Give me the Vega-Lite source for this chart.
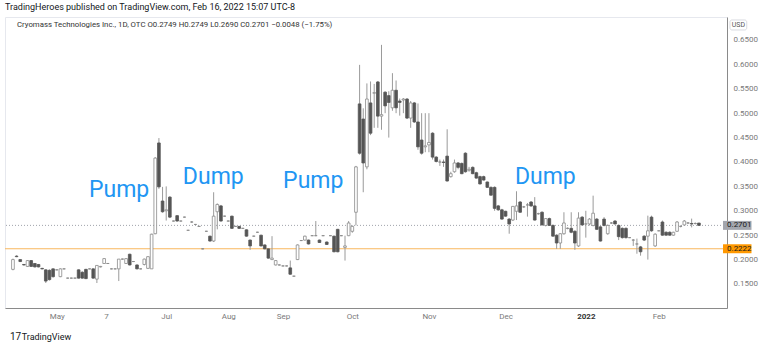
{
  "$schema": "https://vega.github.io/schema/vega-lite/v6.json",
  "width": 722,
  "height": 291,
  "autosize": "none",
  "padding": {"left": 5, "top": 17, "right": 41, "bottom": 38},
  "background": "white",
  "config": {"view": {"stroke": "#e6e8ee"}, "font": "Roboto"},
  "title": {"text": "TradingHeroes published on TradingView.com, Feb 16, 2022 15:07 UTC-8", "anchor": "start", "frame": "group", "offset": 5, "fontSize": 9, "fontWeight": "normal", "color": "#131722", "font": "Roboto"},
  "resolve": {"axis": {"x": "independent", "y": "independent"}},
  "datasets": {
    "candles": [
      {"i":0,"o":0.180,"h":0.202,"l":0.178,"c":0.200},
      {"i":1,"o":0.207,"h":0.209,"l":0.205,"c":0.206},
      {"i":2,"o":0.200,"h":0.200,"l":0.195,"c":0.196},
      {"i":3,"o":0.190,"h":0.191,"l":0.188,"c":0.189},
      {"i":4,"o":0.186,"h":0.199,"l":0.185,"c":0.198},
      {"i":5,"o":0.198,"h":0.199,"l":0.185,"c":0.186},
      {"i":6,"o":0.192,"h":0.193,"l":0.184,"c":0.185},
      {"i":7,"o":0.190,"h":0.191,"l":0.184,"c":0.185},
      {"i":8,"o":0.182,"h":0.183,"l":0.180,"c":0.181},
      {"i":9,"o":0.179,"h":0.180,"l":0.152,"c":0.156},
      {"i":10,"o":0.178,"h":0.180,"l":0.157,"c":0.159},
      {"i":11,"o":0.181,"h":0.182,"l":0.163,"c":0.165},
      {"i":12,"o":0.179,"h":0.180,"l":0.178,"c":0.179},
      {"i":13,"o":0.165,"h":0.182,"l":0.164,"c":0.181},
      {"i":14,"o":0.181,"h":0.182,"l":0.180,"c":0.181},
      {"i":15,"o":0.162,"h":0.163,"l":0.161,"c":0.162},
      {"i":16,"o":0.162,"h":0.163,"l":0.161,"c":0.162},
      {"i":17,"o":0.162,"h":0.163,"l":0.161,"c":0.162},
      {"i":18,"o":0.179,"h":0.180,"l":0.161,"c":0.162},
      {"i":19,"o":0.174,"h":0.176,"l":0.161,"c":0.162},
      {"i":20,"o":0.180,"h":0.181,"l":0.160,"c":0.161},
      {"i":21,"o":0.181,"h":0.182,"l":0.180,"c":0.181},
      {"i":22,"o":0.181,"h":0.182,"l":0.161,"c":0.162},
      {"i":23,"o":0.160,"h":0.188,"l":0.152,"c":0.188},
      {"i":24,"o":0.185,"h":0.187,"l":0.184,"c":0.186},
      {"i":25,"o":0.192,"h":0.203,"l":0.191,"c":0.202},
      {"i":26,"o":0.192,"h":0.193,"l":0.191,"c":0.192},
      {"i":27,"o":0.181,"h":0.182,"l":0.180,"c":0.181},
      {"i":28,"o":0.181,"h":0.182,"l":0.180,"c":0.181},
      {"i":29,"o":0.181,"h":0.201,"l":0.156,"c":0.201},
      {"i":30,"o":0.201,"h":0.202,"l":0.200,"c":0.201},
      {"i":31,"o":0.192,"h":0.203,"l":0.191,"c":0.202},
      {"i":32,"o":0.211,"h":0.212,"l":0.188,"c":0.189},
      {"i":33,"o":0.196,"h":0.197,"l":0.195,"c":0.196},
      {"i":34,"o":0.189,"h":0.190,"l":0.180,"c":0.181},
      {"i":35,"o":0.181,"h":0.182,"l":0.180,"c":0.181},
      {"i":36,"o":0.190,"h":0.202,"l":0.188,"c":0.201},
      {"i":37,"o":0.182,"h":0.207,"l":0.181,"c":0.206},
      {"i":38,"o":0.181,"h":0.253,"l":0.181,"c":0.252},
      {"i":39,"o":0.253,"h":0.410,"l":0.252,"c":0.408},
      {"i":40,"o":0.439,"h":0.449,"l":0.345,"c":0.349},
      {"i":41,"o":0.320,"h":0.349,"l":0.296,"c":0.298},
      {"i":42,"o":0.300,"h":0.350,"l":0.280,"c":0.302},
      {"i":43,"o":0.328,"h":0.330,"l":0.285,"c":0.287},
      {"i":44,"o":0.279,"h":0.280,"l":0.278,"c":0.279},
      {"i":45,"o":0.290,"h":0.291,"l":0.278,"c":0.279},
      {"i":46,"o":0.279,"h":0.280,"l":0.278,"c":0.279},
      {"i":47,"o":0.287,"h":0.288,"l":0.286,"c":0.287},
      {"i":48,"o":0.260,"h":0.261,"l":0.259,"c":0.260},
      {"i":49,"o":0.277,"h":0.279,"l":0.275,"c":0.277},
      {"i":50,"o":0.272,"h":0.273,"l":0.271,"c":0.272},
      {"i":51,"o":0.268,"h":0.269,"l":0.267,"c":0.268},
      {"i":52,"o":0.222,"h":0.223,"l":0.221,"c":0.222},
      {"i":53,"o":0.258,"h":0.259,"l":0.257,"c":0.258},
      {"i":54,"o":0.248,"h":0.249,"l":0.237,"c":0.238},
      {"i":55,"o":0.238,"h":0.338,"l":0.236,"c":0.289},
      {"i":56,"o":0.298,"h":0.315,"l":0.262,"c":0.313},
      {"i":57,"o":0.310,"h":0.312,"l":0.278,"c":0.279},
      {"i":58,"o":0.289,"h":0.290,"l":0.288,"c":0.289},
      {"i":59,"o":0.279,"h":0.280,"l":0.278,"c":0.279},
      {"i":60,"o":0.289,"h":0.290,"l":0.263,"c":0.264},
      {"i":61,"o":0.268,"h":0.269,"l":0.267,"c":0.268},
      {"i":62,"o":0.268,"h":0.269,"l":0.263,"c":0.264},
      {"i":63,"o":0.264,"h":0.265,"l":0.263,"c":0.264},
      {"i":64,"o":0.261,"h":0.262,"l":0.247,"c":0.248},
      {"i":65,"o":0.240,"h":0.241,"l":0.220,"c":0.228},
      {"i":66,"o":0.248,"h":0.249,"l":0.247,"c":0.248},
      {"i":67,"o":0.256,"h":0.257,"l":0.255,"c":0.256},
      {"i":68,"o":0.250,"h":0.251,"l":0.227,"c":0.228},
      {"i":69,"o":0.230,"h":0.231,"l":0.221,"c":0.222},
      {"i":70,"o":0.222,"h":0.223,"l":0.202,"c":0.203},
      {"i":71,"o":0.200,"h":0.248,"l":0.199,"c":0.203},
      {"i":72,"o":0.189,"h":0.199,"l":0.188,"c":0.198},
      {"i":73,"o":0.189,"h":0.190,"l":0.188,"c":0.189},
      {"i":74,"o":0.187,"h":0.188,"l":0.186,"c":0.187},
      {"i":75,"o":0.187,"h":0.188,"l":0.186,"c":0.187},
      {"i":76,"o":0.183,"h":0.198,"l":0.169,"c":0.170},
      {"i":77,"o":0.166,"h":0.167,"l":0.165,"c":0.166},
      {"i":78,"o":0.200,"h":0.231,"l":0.199,"c":0.230},
      {"i":79,"o":0.239,"h":0.240,"l":0.238,"c":0.239},
      {"i":80,"o":0.240,"h":0.249,"l":0.239,"c":0.248},
      {"i":81,"o":0.240,"h":0.241,"l":0.231,"c":0.232},
      {"i":82,"o":0.249,"h":0.250,"l":0.248,"c":0.249},
      {"i":83,"o":0.249,"h":0.279,"l":0.248,"c":0.249},
      {"i":84,"o":0.240,"h":0.241,"l":0.234,"c":0.235},
      {"i":85,"o":0.249,"h":0.250,"l":0.248,"c":0.249},
      {"i":86,"o":0.236,"h":0.237,"l":0.230,"c":0.231},
      {"i":87,"o":0.249,"h":0.250,"l":0.248,"c":0.249},
      {"i":88,"o":0.248,"h":0.249,"l":0.215,"c":0.216},
      {"i":89,"o":0.262,"h":0.263,"l":0.215,"c":0.216},
      {"i":90,"o":0.249,"h":0.250,"l":0.248,"c":0.249},
      {"i":91,"o":0.225,"h":0.249,"l":0.198,"c":0.228},
      {"i":92,"o":0.249,"h":0.279,"l":0.248,"c":0.275},
      {"i":93,"o":0.258,"h":0.270,"l":0.255,"c":0.268},
      {"i":94,"o":0.297,"h":0.392,"l":0.270,"c":0.390},
      {"i":95,"o":0.519,"h":0.599,"l":0.415,"c":0.418},
      {"i":96,"o":0.488,"h":0.510,"l":0.338,"c":0.398},
      {"i":97,"o":0.390,"h":0.561,"l":0.385,"c":0.529},
      {"i":98,"o":0.521,"h":0.565,"l":0.455,"c":0.459},
      {"i":99,"o":0.541,"h":0.560,"l":0.470,"c":0.542},
      {"i":100,"o":0.564,"h":0.566,"l":0.470,"c":0.494},
      {"i":101,"o":0.494,"h":0.640,"l":0.466,"c":0.497},
      {"i":102,"o":0.543,"h":0.545,"l":0.500,"c":0.515},
      {"i":103,"o":0.536,"h":0.545,"l":0.450,"c":0.522},
      {"i":104,"o":0.511,"h":0.582,"l":0.505,"c":0.547},
      {"i":105,"o":0.547,"h":0.567,"l":0.500,"c":0.511},
      {"i":106,"o":0.525,"h":0.530,"l":0.495,"c":0.522},
      {"i":107,"o":0.527,"h":0.531,"l":0.500,"c":0.529},
      {"i":108,"o":0.529,"h":0.531,"l":0.488,"c":0.490},
      {"i":109,"o":0.490,"h":0.525,"l":0.470,"c":0.521},
      {"i":110,"o":0.521,"h":0.523,"l":0.480,"c":0.482},
      {"i":111,"o":0.482,"h":0.520,"l":0.425,"c":0.431},
      {"i":112,"o":0.445,"h":0.500,"l":0.415,"c":0.418},
      {"i":113,"o":0.431,"h":0.500,"l":0.420,"c":0.433},
      {"i":114,"o":0.435,"h":0.500,"l":0.420,"c":0.440},
      {"i":115,"o":0.459,"h":0.461,"l":0.405,"c":0.410},
      {"i":116,"o":0.410,"h":0.412,"l":0.399,"c":0.401},
      {"i":117,"o":0.400,"h":0.405,"l":0.392,"c":0.400},
      {"i":118,"o":0.400,"h":0.405,"l":0.390,"c":0.399},
      {"i":119,"o":0.412,"h":0.467,"l":0.360,"c":0.361},
      {"i":120,"o":0.370,"h":0.380,"l":0.368,"c":0.376},
      {"i":121,"o":0.380,"h":0.405,"l":0.378,"c":0.398},
      {"i":122,"o":0.398,"h":0.400,"l":0.385,"c":0.389},
      {"i":123,"o":0.397,"h":0.399,"l":0.375,"c":0.376},
      {"i":124,"o":0.418,"h":0.420,"l":0.378,"c":0.380},
      {"i":125,"o":0.383,"h":0.390,"l":0.380,"c":0.385},
      {"i":126,"o":0.389,"h":0.391,"l":0.375,"c":0.376},
      {"i":127,"o":0.378,"h":0.380,"l":0.366,"c":0.367},
      {"i":128,"o":0.370,"h":0.372,"l":0.354,"c":0.355},
      {"i":129,"o":0.370,"h":0.372,"l":0.362,"c":0.363},
      {"i":130,"o":0.359,"h":0.360,"l":0.347,"c":0.348},
      {"i":131,"o":0.348,"h":0.350,"l":0.331,"c":0.332},
      {"i":132,"o":0.348,"h":0.350,"l":0.300,"c":0.305},
      {"i":133,"o":0.310,"h":0.312,"l":0.300,"c":0.302},
      {"i":134,"o":0.302,"h":0.304,"l":0.282,"c":0.283},
      {"i":135,"o":0.299,"h":0.300,"l":0.288,"c":0.289},
      {"i":136,"o":0.283,"h":0.285,"l":0.253,"c":0.273},
      {"i":137,"o":0.281,"h":0.310,"l":0.279,"c":0.309},
      {"i":138,"o":0.299,"h":0.340,"l":0.281,"c":0.310},
      {"i":139,"o":0.318,"h":0.320,"l":0.296,"c":0.297},
      {"i":140,"o":0.308,"h":0.310,"l":0.306,"c":0.308},
      {"i":141,"o":0.312,"h":0.316,"l":0.288,"c":0.312},
      {"i":142,"o":0.318,"h":0.320,"l":0.308,"c":0.310},
      {"i":143,"o":0.310,"h":0.328,"l":0.280,"c":0.281},
      {"i":144,"o":0.294,"h":0.296,"l":0.292,"c":0.294},
      {"i":145,"o":0.297,"h":0.299,"l":0.270,"c":0.271},
      {"i":146,"o":0.270,"h":0.285,"l":0.268,"c":0.284},
      {"i":147,"o":0.284,"h":0.286,"l":0.269,"c":0.270},
      {"i":148,"o":0.270,"h":0.272,"l":0.247,"c":0.248},
      {"i":149,"o":0.250,"h":0.252,"l":0.222,"c":0.234},
      {"i":150,"o":0.234,"h":0.254,"l":0.222,"c":0.253},
      {"i":151,"o":0.253,"h":0.297,"l":0.251,"c":0.275},
      {"i":152,"o":0.264,"h":0.266,"l":0.262,"c":0.264},
      {"i":153,"o":0.264,"h":0.297,"l":0.254,"c":0.256},
      {"i":154,"o":0.258,"h":0.260,"l":0.220,"c":0.234},
      {"i":155,"o":0.228,"h":0.297,"l":0.226,"c":0.285},
      {"i":156,"o":0.287,"h":0.289,"l":0.270,"c":0.271},
      {"i":157,"o":0.273,"h":0.300,"l":0.245,"c":0.273},
      {"i":158,"o":0.273,"h":0.285,"l":0.270,"c":0.283},
      {"i":159,"o":0.270,"h":0.331,"l":0.268,"c":0.295},
      {"i":160,"o":0.283,"h":0.285,"l":0.261,"c":0.262},
      {"i":161,"o":0.267,"h":0.269,"l":0.237,"c":0.238},
      {"i":162,"o":0.283,"h":0.287,"l":0.268,"c":0.270},
      {"i":163,"o":0.253,"h":0.272,"l":0.251,"c":0.270},
      {"i":164,"o":0.275,"h":0.277,"l":0.273,"c":0.275},
      {"i":165,"o":0.279,"h":0.281,"l":0.272,"c":0.273},
      {"i":166,"o":0.270,"h":0.272,"l":0.240,"c":0.247},
      {"i":167,"o":0.264,"h":0.266,"l":0.243,"c":0.245},
      {"i":168,"o":0.264,"h":0.266,"l":0.243,"c":0.245},
      {"i":169,"o":0.245,"h":0.246,"l":0.244,"c":0.245},
      {"i":170,"o":0.240,"h":0.242,"l":0.228,"c":0.240},
      {"i":171,"o":0.232,"h":0.243,"l":0.212,"c":0.232},
      {"i":172,"o":0.226,"h":0.228,"l":0.208,"c":0.216},
      {"i":173,"o":0.248,"h":0.250,"l":0.238,"c":0.240},
      {"i":174,"o":0.248,"h":0.290,"l":0.200,"c":0.259},
      {"i":175,"o":0.287,"h":0.290,"l":0.257,"c":0.259},
      {"i":176,"o":0.228,"h":0.254,"l":0.226,"c":0.252},
      {"i":177,"o":0.259,"h":0.260,"l":0.258,"c":0.259},
      {"i":178,"o":0.277,"h":0.280,"l":0.249,"c":0.250},
      {"i":179,"o":0.256,"h":0.258,"l":0.249,"c":0.250},
      {"i":180,"o":0.256,"h":0.258,"l":0.249,"c":0.250},
      {"i":181,"o":0.250,"h":0.257,"l":0.249,"c":0.256},
      {"i":182,"o":0.258,"h":0.279,"l":0.257,"c":0.277},
      {"i":183,"o":0.268,"h":0.270,"l":0.266,"c":0.268},
      {"i":184,"o":0.271,"h":0.281,"l":0.270,"c":0.279},
      {"i":185,"o":0.275,"h":0.277,"l":0.273,"c":0.275},
      {"i":186,"o":0.274,"h":0.284,"l":0.266,"c":0.273},
      {"i":187,"o":0.274,"h":0.276,"l":0.272,"c":0.274},
      {"i":188,"o":0.2749,"h":0.2749,"l":0.2690,"c":0.2701}
    ],
    "notes": [
      {"i":29.1,"p":0.3283,"t":"Pump"},
      {"i":54.9,"p":0.3549,"t":"Dump"},
      {"i":82.3,"p":0.3473,"t":"Pump"},
      {"i":145.9,"p":0.3549,"t":"Dump"}
    ],
    "boxes": [
      {"x1":194.6,"x2":202.4,"lo":0.2609,"hi":0.2793,"p":0.2701,"lab":"0.2701","kind":"last"},
      {"x1":194.6,"x2":202.4,"lo":0.2130,"hi":0.2314,"p":0.2222,"lab":"0.2222","kind":"line"}
    ]
  },
  "layer": [
    {
      "data": {"values": [{"p": 0.2222}]},
      "mark": {"type": "rule", "color": "#f9b75e", "strokeWidth": 1},
      "encoding": {"y": {"field": "p", "type": "quantitative", "scale": {"domain": [0.1008, 0.6971], "nice": false, "zero": false}, "axis": null}}
    },
    {
      "data": {"values": [{"p": 0.2701}]},
      "mark": {"type": "rule", "color": "#a0a3ab", "strokeWidth": 1, "strokeDash": [1, 2]},
      "encoding": {"y": {"field": "p", "type": "quantitative", "axis": null}}
    },
    {
      "data": {"name": "candles"},
      "mark": {"type": "rule", "color": "#9a9a9a", "strokeWidth": 1},
      "encoding": {
        "x": {"field": "i", "type": "quantitative", "scale": {"domain": [-0.81, 194.32], "nice": false, "zero": false}, "axis": null},
        "y": {"field": "l", "type": "quantitative", "axis": null},
        "y2": {"field": "h"}
      }
    },
    {
      "data": {"name": "candles"},
      "mark": {"type": "bar", "size": 2.7, "strokeWidth": 0.8},
      "encoding": {
        "x": {"field": "i", "type": "quantitative", "scale": {"domain": [-0.81, 194.32], "nice": false, "zero": false},
          "axis": {"orient": "bottom", "values": [12, 25.5, 42, 59, 74, 93, 114, 135, 157, 177],
            "labelExpr": "datum.value == 12 ? 'May' : datum.value == 25.5 ? '7' : datum.value == 42 ? 'Jul' : datum.value == 59 ? 'Aug' : datum.value == 74 ? 'Sep' : datum.value == 93 ? 'Oct' : datum.value == 114 ? 'Nov' : datum.value == 135 ? 'Dec' : datum.value == 157 ? '2022' : 'Feb'",
            "labelFontWeight": {"condition": {"test": "datum.value == 157", "value": "bold"}, "value": "normal"},
            "labelColor": {"condition": {"test": "datum.value == 157", "value": "#333333"}, "value": "#7a7a7a"},
            "grid": false, "ticks": false, "domain": true, "domainColor": "#8a8a8a", "labelFontSize": 8, "labelPadding": 4, "title": null, "labelFlush": false}},
        "y": {"field": "o", "type": "quantitative", "scale": {"domain": [0.1008, 0.6971], "nice": false, "zero": false},
          "axis": {"orient": "right", "values": [0.15, 0.2, 0.25, 0.3, 0.35, 0.4, 0.45, 0.5, 0.55, 0.6, 0.65], "format": ".4f",
            "grid": false, "ticks": false, "domain": true, "domainColor": "#8a8a8a", "labelFontSize": 8, "labelColor": "#7a7a7a", "labelPadding": 6, "title": null}},
        "y2": {"field": "c"},
        "fill": {"condition": {"test": "datum.c >= datum.o", "value": "#ffffff"}, "value": "#555555"},
        "stroke": {"condition": {"test": "datum.c >= datum.o", "value": "#8a8a8a"}, "value": "#555555"}
      }
    },
    {
      "data": {"name": "notes"},
      "mark": {"type": "text", "fontSize": 23, "color": "#2196f3", "align": "center", "baseline": "alphabetic", "font": "Roboto"},
      "encoding": {
        "x": {"field": "i", "type": "quantitative", "axis": null},
        "y": {"field": "p", "type": "quantitative", "axis": null},
        "text": {"field": "t"}
      }
    },
    {
      "data": {"values": [{"i": 1.1, "p": 0.6797, "t": "Cryomass Technologies Inc., 1D, OTC  O0.2749  H0.2749  L0.2690  C0.2701  −0.0048 (−1.75%)"}]},
      "mark": {"type": "text", "fontSize": 7.8, "color": "#333", "align": "left", "baseline": "middle"},
      "encoding": {
        "x": {"field": "i", "type": "quantitative", "axis": null},
        "y": {"field": "p", "type": "quantitative", "axis": null},
        "text": {"field": "t"}
      }
    },
    {
      "data": {"name": "boxes"},
      "mark": {"type": "rect"},
      "encoding": {
        "x": {"field": "x1", "type": "quantitative", "axis": null},
        "x2": {"field": "x2"},
        "y": {"field": "lo", "type": "quantitative", "axis": null},
        "y2": {"field": "hi"},
        "fill": {"condition": {"test": "datum.kind == 'last'", "value": "#a3a6ae"}, "value": "#ff9800"}
      }
    },
    {
      "data": {"name": "boxes"},
      "mark": {"type": "text", "fontSize": 8, "align": "left", "baseline": "middle", "dx": 4, "color": "#1a1a1a"},
      "encoding": {
        "x": {"field": "x1", "type": "quantitative", "axis": null},
        "y": {"field": "p", "type": "quantitative", "axis": null},
        "text": {"field": "lab"}
      }
    },
    {
      "data": {"values": [{"x1": 196.5, "x2": 201.1, "lo": 0.6705, "hi": 0.691}]},
      "mark": {"type": "rect", "fill": "white", "stroke": "#cfd2d8", "strokeWidth": 0.8, "cornerRadius": 2},
      "encoding": {
        "x": {"field": "x1", "type": "quantitative", "axis": null},
        "x2": {"field": "x2"},
        "y": {"field": "lo", "type": "quantitative", "axis": null},
        "y2": {"field": "hi"}
      }
    },
    {
      "data": {"values": [{"i": 198.8, "p": 0.6808, "t": "USD"}]},
      "mark": {"type": "text", "fontSize": 7, "align": "center", "baseline": "middle", "color": "#555"},
      "encoding": {
        "x": {"field": "i", "type": "quantitative", "axis": null},
        "y": {"field": "p", "type": "quantitative", "axis": null},
        "text": {"field": "t"}
      }
    },
    {
      "data": {"values": [{"i": -0.81, "p": 0.0414, "t": "17", "w": "bold", "s": 10}, {"i": 2.4, "p": 0.0414, "t": "TradingView", "w": "normal", "s": 9}]},
      "mark": {"type": "text", "align": "left", "baseline": "middle", "color": "#131722"},
      "encoding": {
        "x": {"field": "i", "type": "quantitative", "axis": null},
        "y": {"field": "p", "type": "quantitative", "axis": null},
        "text": {"field": "t"},
        "fontWeight": {"field": "w", "type": "nominal", "scale": null},
        "size": {"field": "s", "type": "quantitative", "scale": null}
      }
    }
  ]
}
